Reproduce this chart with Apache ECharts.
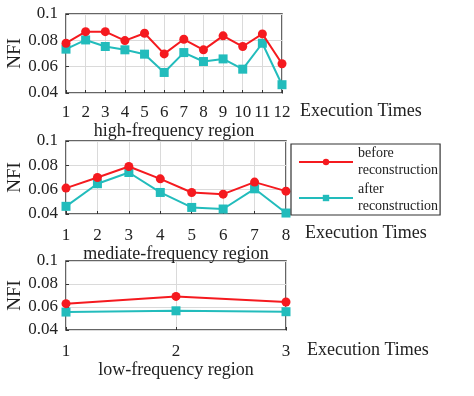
<!DOCTYPE html>
<html>
<head>
<meta charset="utf-8">
<script src="https://cdn.jsdelivr.net/npm/echarts@6/dist/echarts.min.js"></script>
<style>
  html, body { margin: 0; padding: 0; background: #fff; }
  #chart { width: 474px; height: 396px; }
</style>
</head>
<body>
<div id="chart"></div>
<script>
// data
const highBefore = [0.0778, 0.0866, 0.0866, 0.0798, 0.0854, 0.0697, 0.0808, 0.0728, 0.0834, 0.0753, 0.0849, 0.0622];
const highAfter  = [0.0733, 0.0803, 0.0753, 0.0728, 0.0695, 0.0556, 0.0707, 0.0639, 0.0659, 0.0581, 0.0778, 0.0463];
const midBefore  = [0.0613, 0.0700, 0.0790, 0.0689, 0.0577, 0.0563, 0.0662, 0.0588];
const midAfter   = [0.0463, 0.0649, 0.0741, 0.0577, 0.0454, 0.0441, 0.0607, 0.0408];
const lowBefore  = [0.0629, 0.0692, 0.0643];
const lowAfter   = [0.0556, 0.0567, 0.0559];
const regionNames = ['high-frequency region', 'mediate-frequency region', 'low-frequency region'];
const yTicks = [0.04, 0.06, 0.08, 0.1];
const seriesNames = ['before\nreconstruction', 'after\nreconstruction'];

const RED = '#f51a1f';
const CYAN = '#22bcbc';
const FONT = '"Liberation Serif", "DejaVu Serif", serif';

const panels = [
  { before: highBefore, after: highAfter, grid: { left: 66, top: 14, width: 216, height: 79 }, margin: 11, nameGap: 29, execGap: 18, execTop: 10 },
  { before: midBefore,  after: midAfter,  grid: { left: 66, top: 141, width: 220, height: 73 }, margin: 13, nameGap: 27, execGap: 19, execTop: 11 },
  { before: lowBefore,  after: lowAfter,  grid: { left: 66, top: 261, width: 220, height: 69 }, margin: 13, nameGap: 26, execGap: 21, execTop: 12 }
];

const tickStyle = { show: true, inside: true, length: 3, lineStyle: { color: '#333', width: 1 } };
const grids = [], xAxes = [], yAxes = [], series = [], titles = [];
panels.forEach((p, i) => {
  grids.push(Object.assign({ show: true, borderColor: '#333', borderWidth: 1.5, containLabel: false }, p.grid));
  xAxes.push({
    gridIndex: i, type: 'value', min: 1, max: p.before.length, interval: 1,
    axisLine: { show: false }, axisTick: tickStyle,
    axisLabel: { color: '#222', fontFamily: FONT, fontSize: 17, margin: p.margin },
    splitLine: { show: true, lineStyle: { color: '#dadada', width: 1 } },
    name: regionNames[i], nameLocation: 'middle', nameGap: p.nameGap,
    nameTextStyle: { color: '#222', fontFamily: FONT, fontSize: 18 }
  });
  yAxes.push({
    gridIndex: i, type: 'value', min: yTicks[0], max: yTicks[yTicks.length - 1], interval: 0.02,
    axisLine: { show: false }, axisTick: tickStyle,
    axisLabel: { color: '#222', fontFamily: FONT, fontSize: 17, margin: 8,
      formatter: v => String(+v.toFixed(2)) },
    splitLine: { show: true, lineStyle: { color: '#dadada', width: 1 } },
    name: 'NFI', nameLocation: 'middle', nameGap: 37, nameRotate: 90,
    nameTextStyle: { color: '#222', fontFamily: FONT, fontSize: 19 }
  });
  series.push({
    name: seriesNames[0], type: 'line', xAxisIndex: i, yAxisIndex: i,
    data: p.before.map((v, k) => [k + 1, v]),
    symbol: 'circle', symbolSize: 9,
    lineStyle: { color: RED, width: 2 }, itemStyle: { color: RED },
    emphasis: { disabled: true }, z: 3
  });
  series.push({
    name: seriesNames[1], type: 'line', xAxisIndex: i, yAxisIndex: i,
    data: p.after.map((v, k) => [k + 1, v]),
    symbol: 'rect', symbolSize: 9,
    lineStyle: { color: CYAN, width: 2 }, itemStyle: { color: CYAN },
    emphasis: { disabled: true }, z: 2
  });
  titles.push({
    text: 'Execution Times',
    left: p.grid.left + p.grid.width + p.execGap,
    top: p.grid.top + p.grid.height + p.execTop - 1,
    padding: 0,
    textStyle: { color: '#222', fontFamily: FONT, fontSize: 18, fontWeight: 'normal' }
  });
});

const chart = echarts.init(document.getElementById('chart'));
chart.setOption({
  animation: false,
  backgroundColor: '#fff',
  title: titles,
  grid: grids,
  xAxis: xAxes,
  yAxis: yAxes,
  legend: {
    data: seriesNames,
    orient: 'vertical',
    left: 291, top: 144,
    padding: [1, 2, 0, 7],
    itemGap: 2,
    itemWidth: 54, itemHeight: 8,
    borderColor: '#333', borderWidth: 1.2,
    textStyle: { color: '#222', fontFamily: FONT, fontSize: 14, lineHeight: 17 },
    selectedMode: false
  },
  series: series
});
</script>
</body>
</html>
